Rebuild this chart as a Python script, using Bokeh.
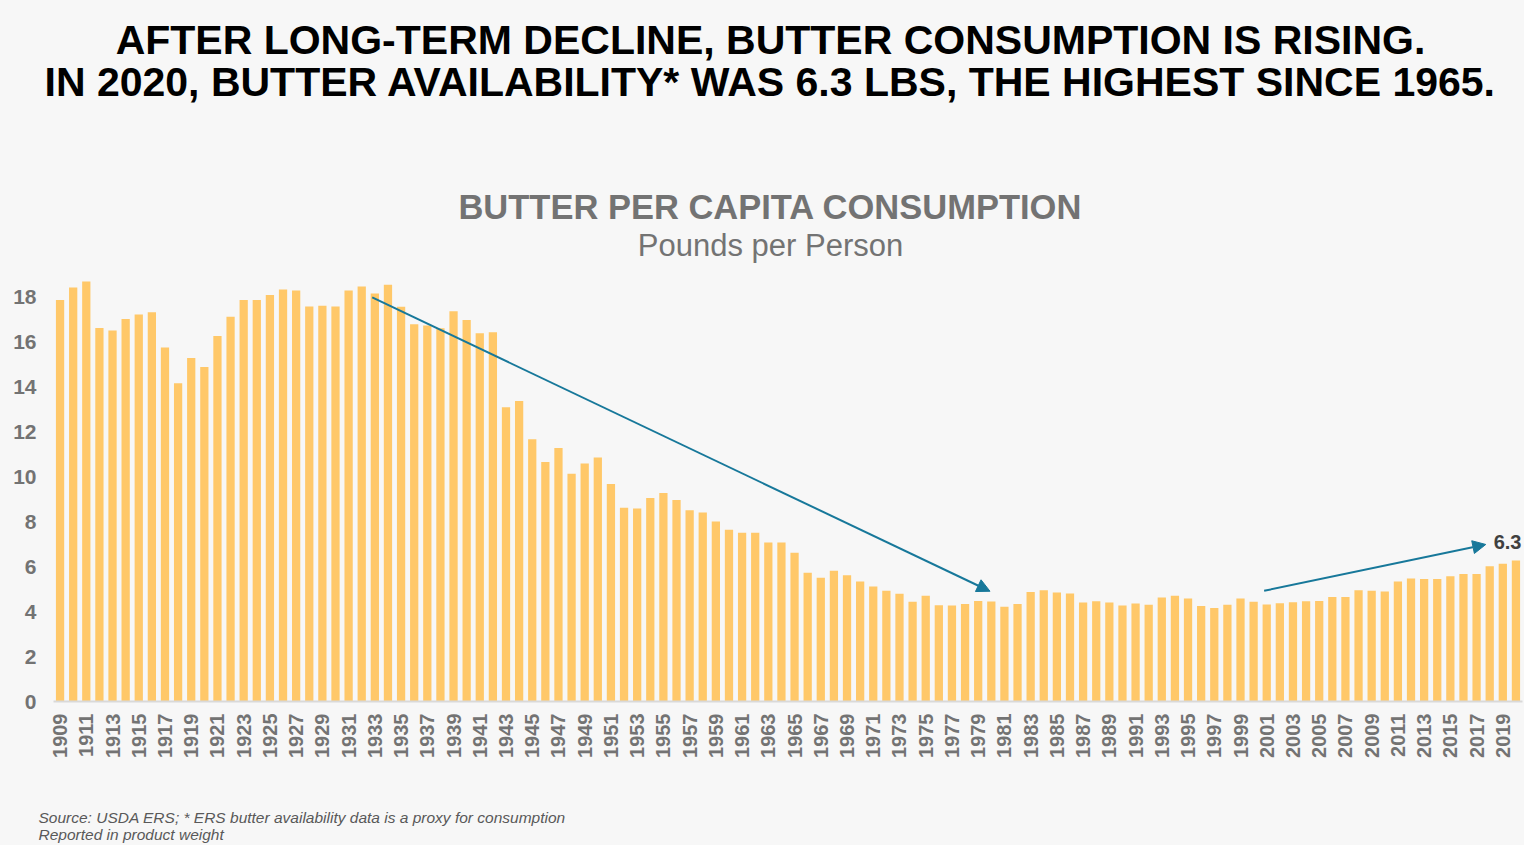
import math

from bokeh.embed import file_html
from bokeh.layouts import column
from bokeh.models import Arrow, NormalHead, Label, Range1d, FixedTicker
from bokeh.plotting import figure
from bokeh.resources import INLINE

# butter availability, pounds per person (product weight)
years = list(range(1909, 2021))
pounds = [
    17.85, 18.40, 18.67, 16.60, 16.49, 17.00, 17.20, 17.30, 15.73, 14.15,  # 1909-1918
    15.27, 14.87, 16.24, 17.10, 17.85, 17.84, 18.07, 18.31, 18.27, 17.56,  # 1919-1928
    17.59, 17.56, 18.27, 18.44, 18.13, 18.52, 17.54, 16.77, 16.71, 16.59,  # 1929-1938
    17.35, 16.96, 16.37, 16.41, 13.08, 13.36, 11.66, 10.65, 11.27, 10.12,  # 1939-1948
    10.58, 10.84, 9.67, 8.61, 8.58, 9.05, 9.27, 8.96, 8.50, 8.40,          # 1949-1958
    8.00, 7.63, 7.50, 7.50, 7.07, 7.07, 6.61, 5.72, 5.50, 5.81,            # 1959-1968
    5.61, 5.33, 5.11, 4.92, 4.79, 4.43, 4.70, 4.28, 4.27, 4.33,            # 1969-1978
    4.47, 4.44, 4.21, 4.33, 4.87, 4.95, 4.84, 4.80, 4.40, 4.46,            # 1979-1988
    4.40, 4.27, 4.36, 4.30, 4.62, 4.70, 4.58, 4.25, 4.16, 4.30,            # 1989-1998
    4.58, 4.43, 4.31, 4.37, 4.41, 4.46, 4.47, 4.64, 4.65, 4.95,            # 1999-2008
    4.92, 4.89, 5.33, 5.47, 5.44, 5.45, 5.57, 5.67, 5.67, 6.01,            # 2009-2018
    6.12, 6.27,                                                            # 2019-2020
]
tick_years = [y for y in years if y % 2 == 1]
y_ticks = [0, 2, 4, 6, 8, 10, 12, 14, 16, 18]

# trend arrows (year, pounds)
decline_start = (1932.8, 17.96)
decline_end = (1979.9, 4.90)
rise_start = (2000.8, 4.92)
rise_end = (2017.7, 6.98)
last_label = "6.3"

title1 = "AFTER LONG-TERM DECLINE, BUTTER CONSUMPTION IS RISING."
title2 = "IN 2020, BUTTER AVAILABILITY* WAS 6.3 LBS, THE HIGHEST SINCE 1965."
chart_title = "BUTTER PER CAPITA CONSUMPTION"
chart_sub = "Pounds per Person"
note1 = "Source: USDA ERS; * ERS butter availability data is a proxy for consumption"
note2 = "Reported in product weight"

BG = "#f7f7f7"
BAR = "#ffc869"
GREY = "#737373"
TEAL = "#17789a"
FONT = "Liberation Sans"
W = 1524


def strip(height, y0):
    # text-only band, pixel coordinates (y downwards)
    f = figure(width=W, height=height, output_backend="svg", toolbar_location=None,
               x_range=Range1d(0, W), y_range=Range1d(y0 + height, y0),
               x_axis_location=None, y_axis_location=None, min_border=0,
               frame_align=False)
    f.background_fill_color = BG
    f.border_fill_color = BG
    f.outline_line_color = None
    f.grid.visible = False
    return f


def txt(f, x, y, text, size, color, style="normal", align="center"):
    f.add_layout(Label(x=x, y=y, text=text, text_font=FONT, text_font_size=size,
                       text_font_style=style, text_color=color,
                       text_baseline="middle", text_align=align))


top = strip(270, 0)
txt(top, 770, 39, title1, "41px", "#000000", "bold")
txt(top, 770, 81, title2, "41px", "#000000", "bold")
txt(top, 770, 206, chart_title, "34.5px", GREY, "bold")
txt(top, 770, 245, chart_sub, "31px", GREY)

p = figure(width=W, height=520, output_backend="svg", toolbar_location=None,
           x_range=Range1d(1908.5, 2020.5), y_range=Range1d(0, 19.156),
           min_border_left=53, min_border_right=2,
           min_border_top=0, min_border_bottom=89, frame_align=False)
p.background_fill_color = BG
p.border_fill_color = BG
p.outline_line_color = None
p.grid.visible = False

p.vbar(x=years, top=pounds, width=0.63, color=BAR, line_color=None)

p.xaxis.ticker = FixedTicker(ticks=tick_years)
p.xaxis.major_label_orientation = math.pi / 2
p.xaxis.major_tick_line_color = None
p.xaxis.minor_tick_line_color = None
p.xaxis.axis_line_color = "#d9d9d9"
p.xaxis.axis_line_width = 2
p.xaxis.major_label_standoff = 6
p.xaxis.major_label_text_font = FONT
p.xaxis.major_label_text_font_style = "bold"
p.xaxis.major_label_text_font_size = "20px"
p.xaxis.major_label_text_color = GREY

p.yaxis.ticker = FixedTicker(ticks=y_ticks)
p.yaxis.axis_line_color = None
p.yaxis.major_tick_line_color = None
p.yaxis.minor_tick_line_color = None
p.yaxis.major_label_standoff = 11
p.yaxis.major_label_text_font = FONT
p.yaxis.major_label_text_font_style = "bold"
p.yaxis.major_label_text_font_size = "21px"
p.yaxis.major_label_text_color = GREY

for (x0, y0), (x1, y1) in [(decline_start, decline_end), (rise_start, rise_end)]:
    p.add_layout(Arrow(x_start=x0, y_start=y0, x_end=x1, y_end=y1,
                       line_color=TEAL, line_width=2,
                       end=NormalHead(size=13, fill_color=TEAL, line_color=TEAL)))

p.add_layout(Label(x=2018.3, y=7.08, text=last_label, text_font=FONT,
                   text_font_style="bold", text_font_size="20px", text_color="#404040",
                   text_baseline="middle", text_align="left"))

bottom = strip(55, 790)
txt(bottom, 38, 817, note1, "15.5px", "#595959", "italic", "left")
txt(bottom, 38, 834, note2, "15.5px", "#595959", "italic", "left")

page = column(top, p, bottom, spacing=0, styles={"background-color": BG})
open("out.html", "w").write(file_html(page, INLINE))
